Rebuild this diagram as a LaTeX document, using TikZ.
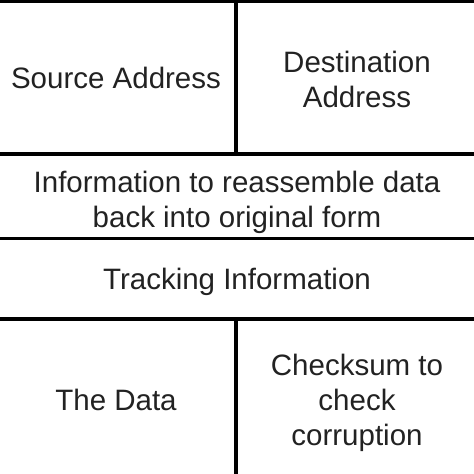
\documentclass[tikz,border=0pt]{standalone}
\usepackage{fontspec}
\setmainfont{Liberation Sans}
\definecolor{ink}{HTML}{222222}
\begin{document}
\begin{tikzpicture}[x=1pt,y=1pt,
  rule/.style={line width=4pt,black},
  thinrule/.style={line width=3pt,black},
  lbl/.style={align=center,text=ink,font=\fontsize{29.5}{35}\selectfont,inner sep=0pt}]
\useasboundingbox[fill=white] (0,0) rectangle (474,474);
% lines
\coordinate (tl) at (0,473);
\coordinate (tr) at (474,473);
\coordinate (h1l) at (0,320);
\coordinate (h1r) at (474,320);
\coordinate (h2l) at (0,235.5);
\coordinate (h2r) at (474,235.5);
\coordinate (h3l) at (0,155);
\coordinate (h3r) at (474,155);
\coordinate (v1t) at (236,474);
\coordinate (v1b) at (236,320);
\coordinate (v2t) at (236,155);
\coordinate (v2b) at (236,0);
\draw[rule] (tl) -- (tr);
\draw[rule] (h1l) -- (h1r);
\draw[thinrule] (h2l) -- (h2r);
\draw[rule] (h3l) -- (h3r);
\draw[rule] (v1t) -- (v1b);
\draw[rule] (v2t) -- (v2b);
% labels
\node[lbl] (src) at (116,396) {Source Address};
\node[lbl] (dst) at (357,395) {Destination\\Address};
\node[lbl] (info) at (237,272) {Information to reassemble data\\back into original form};
\node[lbl] (track) at (237,192) {Tracking Information};
\node[lbl] (data) at (116,74) {The Data};
\node[lbl] (chk) at (357,71) {Checksum to\\check\\corruption};
\end{tikzpicture}
\end{document}
